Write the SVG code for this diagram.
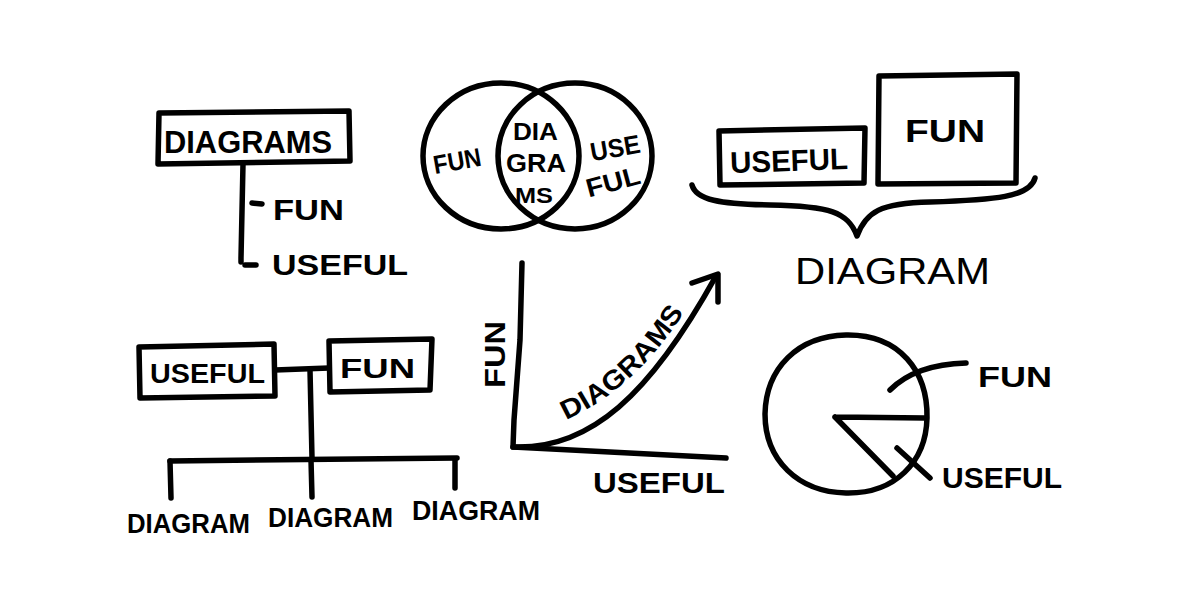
<svg xmlns="http://www.w3.org/2000/svg" width="1200" height="609" viewBox="0 0 1200 609">
<style>
.s{fill:none;stroke:#000;stroke-width:5.5;stroke-linecap:round;stroke-linejoin:round}
.t{font-family:"Liberation Sans",Arial,sans-serif;font-weight:bold;fill:#000}
.thin{font-family:"Liberation Sans",Arial,sans-serif;font-weight:normal;fill:#000}
</style>
<defs>
<path id="curveText" d="M566,420 Q642,386 694,296"/>
</defs>
<rect width="1200" height="609" fill="#fff"/>

<!-- Panel 1: tree list -->
<g id="p1-diagrams">
<path class="s" d="M159,113 L349,111 L350,161 L158,164 Z"/>
<text class="t" x="164" y="153" font-size="32" textLength="168" lengthAdjust="spacingAndGlyphs">DIAGRAMS</text>
</g>
<g id="p1-fun">
<text class="t" x="273" y="220" font-size="30" textLength="71" lengthAdjust="spacingAndGlyphs">FUN</text>
</g>
<g id="p1-useful">
<text class="t" x="272" y="275" font-size="30" textLength="136" lengthAdjust="spacingAndGlyphs">USEFUL</text>
</g>

<!-- Panel 2: venn -->
<g id="venn-fun">
<ellipse class="s" cx="501" cy="156" rx="78" ry="73"/>
<text class="t" x="433" y="170" font-size="26" textLength="48" lengthAdjust="spacingAndGlyphs" transform="rotate(-10 457 160)">FUN</text>
</g>
<g id="venn-useful">
<ellipse class="s" cx="575" cy="156" rx="77" ry="73"/>
<text class="t" x="590" y="157" font-size="26" textLength="50" lengthAdjust="spacingAndGlyphs" transform="rotate(-10 615 147)">USE</text>
<text class="t" x="585" y="191" font-size="26" textLength="55" lengthAdjust="spacingAndGlyphs" transform="rotate(-15 612 180)">FUL</text>
</g>
<g id="venn-diagrams">
<text class="t" x="513" y="140" font-size="24" textLength="45" lengthAdjust="spacingAndGlyphs">DIA</text>
<text class="t" x="506" y="172" font-size="26" textLength="60" lengthAdjust="spacingAndGlyphs">GRA</text>
<text class="t" x="515" y="203" font-size="22" textLength="38" lengthAdjust="spacingAndGlyphs">MS</text>
</g>

<!-- Panel 3: brace -->
<g id="p3-useful">
<path class="s" d="M719,131 L865,128 L864,183 L720,185 Z"/>
<text class="t" x="730" y="171" font-size="30" textLength="118" lengthAdjust="spacingAndGlyphs" transform="rotate(-2 790 160)">USEFUL</text>
</g>
<g id="p3-fun">
<path class="s" d="M879,76 L1017,74 L1016,183 L878,184 Z"/>
<text class="t" x="905" y="142" font-size="32" textLength="80" lengthAdjust="spacingAndGlyphs">FUN</text>
</g>
<g id="p3-diagram">
<text class="thin" x="795" y="284" font-size="36" textLength="195" lengthAdjust="spacingAndGlyphs">DIAGRAM</text>
</g>

<!-- Panel 4: org chart -->
<g id="p4-useful">
<path class="s" d="M139,347 L274,344 L275,396 L140,398 Z"/>
<text class="t" x="150" y="383" font-size="28" textLength="115" lengthAdjust="spacingAndGlyphs">USEFUL</text>
</g>
<g id="p4-fun">
<path class="s" d="M329,341 L432,339 L430,390 L330,392 Z"/>
<text class="t" x="340" y="378" font-size="28" textLength="75" lengthAdjust="spacingAndGlyphs">FUN</text>
</g>
<g id="p4-d1"><text class="t" x="127" y="533" font-size="27" textLength="123" lengthAdjust="spacingAndGlyphs">DIAGRAM</text></g>
<g id="p4-d2"><text class="t" x="268" y="527" font-size="27" textLength="125" lengthAdjust="spacingAndGlyphs">DIAGRAM</text></g>
<g id="p4-d3"><text class="t" x="412" y="520" font-size="27" textLength="128" lengthAdjust="spacingAndGlyphs">DIAGRAM</text></g>

<!-- Panel 5: chart -->
<g id="chart">
<text class="t" font-size="30" textLength="67" lengthAdjust="spacingAndGlyphs" transform="translate(505 388) rotate(-90)" x="0" y="0">FUN</text>
<text class="t" x="593" y="493" font-size="30" textLength="132" lengthAdjust="spacingAndGlyphs">USEFUL</text>
<text class="t" font-size="27"><textPath href="#curveText" textLength="162" lengthAdjust="spacingAndGlyphs">DIAGRAMS</textPath></text>
</g>

<!-- Panel 6: pie -->
<g id="pie">
<path class="s" d="M846,335 C900,334 928,372 927,418 C926,462 895,494 846,493 C798,492 765,460 765,414 C766,368 798,336 846,335 Z"/>
<path class="s" d="M835,417 L925,418 M835,417 L893,476"/>
</g>
<g id="pie-fun"><text class="t" x="978" y="387" font-size="30" textLength="74" lengthAdjust="spacingAndGlyphs">FUN</text></g>
<g id="pie-useful"><text class="t" x="942" y="488" font-size="30" textLength="120" lengthAdjust="spacingAndGlyphs">USEFUL</text></g>

<!-- Connectors -->
<g id="connectors">
<path class="s" d="M243,164 L241,258 L241,262"/>
<path class="s" d="M252,203 L262,204 M245,265 L256,265"/>
<path class="s" d="M692,185 C696,200 720,204 770,205 C830,206 848,212 857,236 C866,212 880,203 930,202 C995,200 1030,197 1035,178"/>
<path class="s" d="M275,370 L329,368"/>
<path class="s" d="M310,370 L312,458"/>
<path class="s" d="M170,461 L457,458"/>
<path class="s" d="M170,461 L171,498 M311,460 L312,497 M455,459 L455,488"/>
<path class="s" d="M522,263 L520,340 L514,420 L513,447 L726,458"/>
<path class="s" d="M513,447 C590,450 650,395 716,276"/>
<path class="s" d="M692,283 L718,274 L718,302"/>
<path class="s" d="M890,390 C905,375 930,364 966,363"/>
<path class="s" d="M897,448 L930,478"/>
</g>
</svg>
